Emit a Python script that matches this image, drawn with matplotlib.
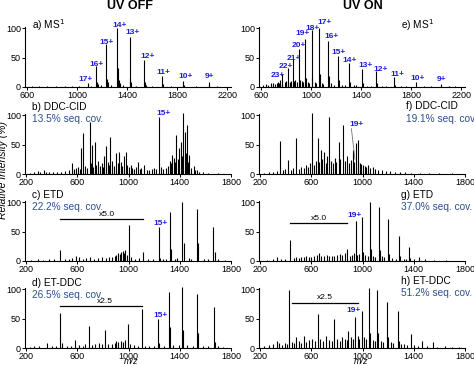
import matplotlib
matplotlib.use('Agg')
import matplotlib.pyplot as plt

plt.rcParams['font.family'] = ['Liberation Sans', 'DejaVu Sans']

# peak lists (m/z, relative intensity)
ms1_off = [(1086, 7), (1154, 35), (1230, 73), (1318, 100), (1420, 85), (1538, 46),
           (1678, 19), (1846, 11), (2051, 9),
           (1092, 3), (1160, 8), (1165, 5), (1237, 14), (1244, 8), (1325, 32), (1332, 12),
           (1340, 6), (1427, 16), (1434, 8), (1545, 9), (1552, 4), (1685, 5), (1853, 3), (2058, 3),
           (640, 1.5), (700, 1.2), (760, 1.5), (830, 1.8), (905, 1.5), (960, 2), (1020, 2.5),
           (1110, 2), (1190, 3), (1270, 3), (1370, 3), (1470, 2.5), (1600, 2), (1750, 1.5),
           (1950, 1.5), (2120, 1.2)]
ms1_off_charges = [('17+', 1067, 12), ('16+', 1157, 38), ('15+', 1237, 75), ('14+', 1344, 104),
                   ('13+', 1445, 92), ('12+', 1563, 51), ('11+', 1691, 24), ('10+', 1869, 17),
                   ('9+', 2059, 17)]

ms1_on = [(725, 6), (752, 12), (765, 22), (813, 33), (859, 48), (907, 64), (952, 82),
          (1005, 97), (1067, 100), (1133, 78), (1213, 52), (1307, 40), (1405, 31),
          (1520, 27), (1661, 17), (1840, 8), (2040, 5),
          (771, 5), (819, 8), (865, 10), (913, 12), (958, 15), (1011, 18), (1073, 22),
          (1140, 18), (1220, 12), (1314, 9), (1412, 7), (1527, 6), (1668, 4),
          (620, 3), (640, 5), (660, 4), (680, 6), (700, 7), (715, 5), (735, 9), (745, 6),
          (790, 8), (800, 10), (830, 9), (840, 11), (875, 12), (885, 9), (925, 10), (935, 8),
          (975, 9), (985, 7), (1030, 8), (1040, 6), (1090, 7), (1100, 5), (1160, 6), (1180, 4),
          (1250, 4), (1270, 3), (1340, 3), (1360, 3), (1450, 2.5), (1480, 2), (1570, 2),
          (1600, 2), (1720, 1.5), (1760, 1.5), (1900, 1.2), (1960, 1.2), (2100, 1.5), (2150, 1)]
ms1_on_charges = [('23+', 733, 20), ('22+', 800, 34), ('21+', 861, 48), ('20+', 907, 71),
                  ('19+', 933, 91), ('18+', 1013, 100), ('17+', 1112, 110), ('16+', 1168, 85),
                  ('15+', 1219, 59), ('14+', 1307, 45), ('13+', 1432, 36), ('12+', 1560, 30),
                  ('11+', 1688, 21), ('10+', 1853, 14), ('9+', 2045, 12)]

ddc_off = [(644, 69), (631, 44), (695, 89), (714, 49), (734, 55), (811, 30), (824, 47),
           (855, 63), (902, 35), (927, 38), (961, 30), (979, 38), (1018, 16), (1070, 21),
           (1121, 16), (561, 19), (1237, 97), (1340, 33), (1374, 66), (1395, 44), (1407, 55),
           (1426, 103), (1438, 72), (1457, 83), (1474, 33), (1508, 13), (1534, 7),
           (230, 2), (260, 3), (290, 5), (310, 4), (340, 6), (355, 3), (380, 4), (410, 3),
           (440, 4), (470, 3), (500, 5), (530, 6), (575, 8), (590, 10), (605, 12), (620, 9),
           (660, 14), (675, 10), (705, 18), (725, 12), (745, 15), (760, 22), (775, 14),
           (790, 18), (800, 12), (835, 20), (845, 15), (870, 22), (885, 14), (915, 18),
           (940, 20), (950, 14), (990, 15), (1000, 12), (1030, 10), (1045, 9), (1060, 12),
           (1085, 8), (1100, 10), (1140, 7), (1160, 6), (1180, 8), (1200, 10), (1215, 9),
           (1250, 12), (1265, 8), (1290, 10), (1305, 14), (1320, 22), (1330, 18), (1355, 28),
           (1365, 20), (1385, 25), (1415, 30), (1445, 35), (1465, 20), (1490, 10), (1520, 6),
           (1550, 4), (1580, 3), (1620, 2), (1700, 1.5)]

ddc_on = [(353, 56), (420, 24), (477, 61), (605, 103), (652, 62), (675, 41), (701, 38),
          (740, 97), (787, 28), (812, 55), (843, 84), (876, 30), (923, 40), (949, 53),
          (967, 57), (988, 17),
          (230, 2), (270, 3), (300, 4), (330, 5), (375, 6), (395, 8), (440, 7), (455, 10),
          (500, 8), (520, 12), (545, 10), (560, 15), (575, 12), (590, 18), (620, 15),
          (635, 22), (660, 20), (685, 25), (710, 18), (720, 30), (750, 22), (765, 18),
          (795, 20), (825, 25), (860, 22), (895, 18), (910, 24), (935, 20), (960, 22),
          (980, 18), (1000, 15), (1015, 14), (1030, 12), (1045, 15), (1060, 10), (1080, 12),
          (1100, 8), (1120, 7), (1150, 6), (1180, 5), (1210, 5), (1250, 4), (1290, 3),
          (1330, 3), (1380, 2), (1450, 2), (1520, 1.5), (1600, 1.2), (1700, 1)]

etd_off = [(1237, 58), (1320, 83), (1419, 100), (1531, 88), (1663, 58),
           (1243, 5), (1328, 20), (1430, 30), (1541, 30), (1672, 15),
           (1000, 62), (915, 13), (940, 16), (956, 17), (974, 19), (1111, 16), (466, 18),
           (592, 9),
           (240, 2), (290, 3), (330, 2), (380, 3), (420, 3), (500, 4), (530, 3), (560, 5),
           (610, 6), (640, 4), (670, 5), (700, 6), (730, 4), (760, 5), (790, 6), (820, 5),
           (850, 7), (870, 6), (890, 8), (905, 10), (930, 12), (965, 14), (985, 10),
           (1020, 6), (1050, 4), (1080, 5), (1150, 3), (1190, 3), (1270, 3), (1290, 4),
           (1360, 4), (1380, 5), (1470, 5), (1490, 4), (1590, 3), (1620, 3), (1700, 3),
           (1750, 2)]

etd_on = [(949, 68), (995, 74), (1057, 100), (1124, 92), (1201, 71), (1284, 42), (1361, 23),
          (957, 10), (1003, 15), (1065, 20), (1132, 18), (1209, 12), (1292, 8), (1370, 5),
          (433, 35), (330, 7), (876, 21), (657, 13), (721, 10),
          (250, 2), (300, 3), (360, 3), (390, 4), (460, 5), (480, 6), (500, 5), (520, 7),
          (540, 6), (560, 8), (580, 7), (600, 6), (620, 8), (640, 10), (675, 9), (700, 8),
          (740, 9), (760, 8), (780, 9), (800, 10), (820, 12), (840, 10), (860, 13), (900, 9),
          (920, 11), (935, 14), (975, 12), (1020, 10), (1040, 8), (1080, 9), (1100, 7),
          (1150, 8), (1170, 6), (1230, 5), (1260, 4), (1320, 4), (1340, 3), (1400, 3),
          (1440, 6), (1490, 3), (1560, 2), (1650, 1.5)]

etddc_off = [(463, 60), (584, 14), (687, 37), (817, 30), (920, 11), (940, 12), (992, 41),
             (1108, 66), (1232, 49), (1314, 96), (1418, 103), (1534, 92), (1668, 69), (360, 8),
             (1322, 35), (1426, 30), (1542, 25), (1676, 10), (1240, 8),
             (230, 2), (260, 3), (300, 4), (400, 3), (430, 4), (480, 8), (520, 3), (550, 4),
             (610, 5), (640, 4), (660, 6), (710, 5), (740, 6), (770, 8), (790, 7), (840, 6),
             (870, 7), (890, 9), (905, 12), (955, 10), (970, 14), (1010, 6), (1040, 5),
             (1070, 4), (1130, 4), (1160, 3), (1200, 4), (1280, 4), (1350, 5), (1390, 5),
             (1460, 5), (1500, 4), (1580, 3), (1620, 3), (1700, 3), (1740, 2)]

etddc_on = [(425, 99), (330, 12), (477, 18), (541, 21), (652, 58), (605, 15), (717, 21),
            (779, 49), (838, 18), (889, 29), (941, 52), (992, 63), (1052, 102), (1114, 99),
            (1191, 79), (1276, 63), (1375, 24), (1464, 12), (1547, 10),
            (1060, 25), (1122, 25), (1199, 18), (1284, 12),
            (230, 3), (270, 5), (300, 6), (350, 8), (370, 5), (395, 9), (410, 7), (445, 10),
            (460, 8), (500, 12), (520, 9), (560, 10), (580, 14), (630, 12), (670, 16),
            (690, 12), (740, 14), (760, 12), (800, 15), (820, 12), (860, 16), (875, 14),
            (910, 18), (925, 15), (960, 20), (975, 16), (1010, 18), (1030, 15), (1080, 14),
            (1095, 12), (1140, 12), (1160, 10), (1220, 10), (1240, 8), (1300, 7), (1320, 6),
            (1350, 5), (1400, 5), (1430, 4), (1500, 3), (1580, 2.5), (1640, 4), (1700, 2),
            (1750, 1.5)]

ms1_ticks = [600, 1000, 1400, 1800, 2200]
msms_ticks = [200, 600, 1000, 1400, 1800]

W, H = 474, 366
BLUE = '#1c1cd6'
COV = '#2d4f8e'

fig = plt.figure(figsize=(W / 100, H / 100), dpi=100)


def make_ax(x0, y0, ms1):
    # x0: left edge in px, y0: baseline (intensity 0) in px from top
    ax = fig.add_axes([x0 / W, 1 - y0 / H, 206 / W, 60 / H])
    ax.set_ylim(0, 102)
    if ms1:
        ax.set_xlim(585, 2230)
        ax.set_xticks(ms1_ticks)
    else:
        ax.set_xlim(190, 1800)
        ax.set_xticks(msms_ticks)
    ax.set_yticks([0, 50, 100])
    for s in ['top', 'right']:
        ax.spines[s].set_visible(False)
    for s in ['left', 'bottom']:
        ax.spines[s].set_linewidth(0.8)
    ax.tick_params(labelsize=6.5, length=2, width=0.7, pad=1)
    ax.patch.set_alpha(0)
    return ax


def draw(ax, peaks):
    mz = [p[0] for p in peaks]
    h = [p[1] for p in peaks]
    ax.vlines(mz, 0, h, color='black', lw=0.8, clip_on=False)


def charges(ax, labels):
    for t, x, y in labels:
        ax.text(x, y, t, color=BLUE, fontsize=6, fontweight='bold',
                ha='center', va='center', clip_on=False)


def panel_text(x, y, name, cov=None):
    fig.text(x / W, 1 - y / H, name, fontsize=7.3, ha='left', va='center')
    if cov:
        fig.text(x / W, 1 - (y + 12.5) / H, cov, fontsize=7.3, color=COV,
                 ha='left', va='center')


def scale_bar(ax, x1, x2, y, label, lx, ly):
    ax.plot([x1, x2], [y, y], color='black', lw=0.9)
    ax.text(lx, ly, label, fontsize=6, ha='center', va='center')


# left column: UV OFF
ax_a = make_ax(25, 87, True)
draw(ax_a, ms1_off)
charges(ax_a, ms1_off_charges)
panel_text(32, 25, 'a) MS$^1$')

ax_b = make_ax(25, 174, False)
draw(ax_b, ddc_off)
charges(ax_b, [('15+', 1271, 103)])
panel_text(32, 107, 'b) DDC-CID', '13.5% seq. cov.')

ax_c = make_ax(25, 261, False)
draw(ax_c, etd_off)
charges(ax_c, [('15+', 1252, 64)])
scale_bar(ax_c, 463, 1116, 71, 'x5.0', 833, 79)
panel_text(32, 195, 'c) ETD', '22.2% seq. cov.')

ax_d = make_ax(25, 348, False)
draw(ax_d, etddc_off)
charges(ax_d, [('15+', 1252, 56)])
scale_bar(ax_d, 463, 1108, 71, 'x2.5', 815, 79)
panel_text(32, 283, 'd) ET-DDC', '26.5% seq. cov.')

# right column: UV ON
ax_e = make_ax(259, 87, True)
draw(ax_e, ms1_on)
charges(ax_e, ms1_on_charges)
panel_text(401, 25, 'e) MS$^1$')

ax_f = make_ax(259, 174, False)
draw(ax_f, ddc_on)
charges(ax_f, [('19+', 949, 84)])
ax_f.plot([912, 940], [77, 25], color='0.45', lw=0.6)
panel_text(406, 106, 'f) DDC-CID', '19.1% seq. cov.')

ax_g = make_ax(259, 261, False)
draw(ax_g, etd_on)
charges(ax_g, [('19+', 936, 77)])
scale_bar(ax_g, 433, 876, 64, 'x5.0', 657, 73)
panel_text(401, 195, 'g) ETD', '37.0% seq. cov.')

ax_h = make_ax(259, 348, False)
draw(ax_h, etddc_on)
charges(ax_h, [('19+', 928, 63)])
scale_bar(ax_h, 450, 967, 77, 'x2.5', 709, 86)
panel_text(401, 281, 'h) ET-DDC', '51.2% seq. cov.')

fig.text(130 / W, 1 - 6 / H, 'UV OFF', fontsize=9, fontweight='bold', ha='center', va='center')
fig.text(363 / W, 1 - 6 / H, 'UV ON', fontsize=9, fontweight='bold', ha='center', va='center')
fig.text(3.5 / W, 1 - 170 / H, 'Relative Intensity (%)', fontsize=7.5, style='italic',
         rotation=90, ha='center', va='center')
fig.text(131 / W, 1 - 362 / H, 'm/z', fontsize=6.5, style='italic', ha='center', va='center')
fig.text(361 / W, 1 - 362 / H, 'm/z', fontsize=6.5, style='italic', ha='center', va='center')

fig.savefig('out.png', dpi=100)
